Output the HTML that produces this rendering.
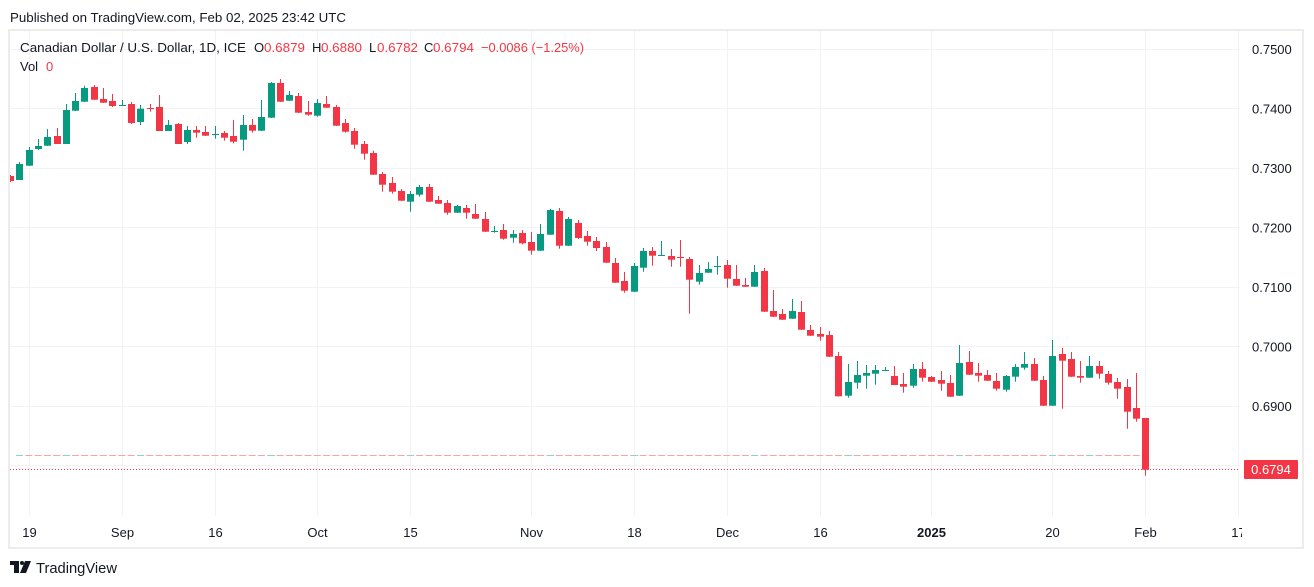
<!DOCTYPE html>
<html><head><meta charset="utf-8"><style>
html,body{margin:0;padding:0;background:#fff;width:1314px;height:587px;overflow:hidden}
svg{display:block}
text{font-family:"Liberation Sans",sans-serif;}
</style></head><body>
<svg width="1314" height="587" viewBox="0 0 1314 587" xmlns="http://www.w3.org/2000/svg">
<defs>
<clipPath id="plot"><rect x="10" y="31" width="1230" height="486"/></clipPath>
<clipPath id="taxis"><rect x="10" y="517" width="1232" height="30"/></clipPath>
</defs>
<rect width="1314" height="587" fill="#fff"/>
<text x="10" y="22" font-size="13" fill="#131722" textLength="336" lengthAdjust="spacingAndGlyphs">Published on TradingView.com, Feb 02, 2025 23:42 UTC</text>
<rect x="9" y="30" width="1294" height="518" fill="#fff" stroke="#ececec" stroke-width="2"/>
<g stroke="#f2f2f2" stroke-width="1">
<line x1="10" y1="49.5" x2="1240" y2="49.5"/>
<line x1="10" y1="108.5" x2="1240" y2="108.5"/>
<line x1="10" y1="168.5" x2="1240" y2="168.5"/>
<line x1="10" y1="227.5" x2="1240" y2="227.5"/>
<line x1="10" y1="287.5" x2="1240" y2="287.5"/>
<line x1="10" y1="346.5" x2="1240" y2="346.5"/>
<line x1="10" y1="406.5" x2="1240" y2="406.5"/>
<line x1="10" y1="465.5" x2="1240" y2="465.5"/>
<line x1="29.5" y1="31" x2="29.5" y2="516"/>
<line x1="122.5" y1="31" x2="122.5" y2="516"/>
<line x1="215.5" y1="31" x2="215.5" y2="516"/>
<line x1="317.5" y1="31" x2="317.5" y2="516"/>
<line x1="410.5" y1="31" x2="410.5" y2="516"/>
<line x1="531.5" y1="31" x2="531.5" y2="516"/>
<line x1="634.5" y1="31" x2="634.5" y2="516"/>
<line x1="727.5" y1="31" x2="727.5" y2="516"/>
<line x1="820.5" y1="31" x2="820.5" y2="516"/>
<line x1="931.5" y1="31" x2="931.5" y2="516"/>
<line x1="1052.5" y1="31" x2="1052.5" y2="516"/>
<line x1="1145.5" y1="31" x2="1145.5" y2="516"/>
<line x1="1238.5" y1="31" x2="1238.5" y2="516"/>
</g>
<g font-size="13">
<text x="20" y="52" fill="#131722" textLength="226" lengthAdjust="spacingAndGlyphs">Canadian Dollar / U.S. Dollar, 1D, ICE</text>
<text x="254" y="52" fill="#131722">O</text><text x="264" y="52" fill="#F23645" textLength="41" lengthAdjust="spacingAndGlyphs">0.6879</text>
<text x="312" y="52" fill="#131722">H</text><text x="321" y="52" fill="#F23645" textLength="41" lengthAdjust="spacingAndGlyphs">0.6880</text>
<text x="369" y="52" fill="#131722">L</text><text x="377" y="52" fill="#F23645" textLength="41" lengthAdjust="spacingAndGlyphs">0.6782</text>
<text x="424" y="52" fill="#131722">C</text><text x="433" y="52" fill="#F23645" textLength="41" lengthAdjust="spacingAndGlyphs">0.6794</text>
<text x="481" y="52" fill="#F23645" textLength="103" lengthAdjust="spacingAndGlyphs">−0.0086 (−1.25%)</text>
<text x="20" y="71" fill="#131722">Vol</text><text x="46" y="71" fill="#F23645">0</text>
</g>
<g clip-path="url(#plot)">
<line x1="16" y1="455.5" x2="1149" y2="455.5" stroke="#f6a4a6" stroke-width="1" stroke-dasharray="7 2.306"/>
<g fill="#8fd3c8">
<rect x="16" y="455" width="7" height="1"/><rect x="63" y="455" width="7" height="1"/><rect x="137" y="455" width="7" height="1"/><rect x="268" y="455" width="7" height="1"/><rect x="407" y="455" width="7" height="1"/><rect x="547" y="455" width="7" height="1"/><rect x="631" y="455" width="7" height="1"/><rect x="751" y="455" width="7" height="1"/><rect x="845" y="455" width="7" height="1"/><rect x="956" y="455" width="7" height="1"/><rect x="1049" y="455" width="7" height="1"/><rect x="1086" y="455" width="7" height="1"/>
</g>
<line x1="10" y1="469.5" x2="1244" y2="469.5" stroke="#F23645" stroke-width="1" stroke-dasharray="1 2"/>
<g fill="#089981">
<rect x="19" y="162" width="1" height="18"/><rect x="16" y="164" width="7" height="16"/>
<rect x="29" y="147" width="1" height="19"/><rect x="26" y="150" width="7" height="15.7"/>
<rect x="38" y="139" width="1" height="11"/><rect x="35" y="146" width="7" height="3"/>
<rect x="47" y="129" width="1" height="17"/><rect x="44" y="137" width="7" height="8.7"/>
<rect x="66" y="104" width="1" height="40"/><rect x="63" y="110" width="7" height="34"/>
<rect x="75" y="93" width="1" height="18"/><rect x="72" y="101" width="7" height="9.7"/>
<rect x="84" y="85.7" width="1" height="16.3"/><rect x="81" y="88" width="7" height="13.7"/>
<rect x="122" y="100" width="1" height="6"/><rect x="119" y="105" width="7" height="1"/>
<rect x="140" y="105" width="1" height="20"/><rect x="137" y="108.7" width="7" height="13.3"/>
<rect x="168" y="120" width="1" height="11"/><rect x="165" y="125" width="7" height="6"/>
<rect x="187" y="126" width="1" height="18"/><rect x="184" y="130" width="7" height="12"/>
<rect x="215" y="126" width="1" height="12.7"/><rect x="212" y="134" width="7" height="1"/>
<rect x="243" y="115" width="1" height="35.7"/><rect x="240" y="125" width="7" height="14.7"/>
<rect x="261" y="100" width="1" height="31"/><rect x="258" y="117" width="7" height="13.7"/>
<rect x="271" y="82" width="1" height="36"/><rect x="268" y="83" width="7" height="34.7"/>
<rect x="289" y="91" width="1" height="10"/><rect x="286" y="95" width="7" height="5.7"/>
<rect x="317" y="99" width="1" height="17.7"/><rect x="314" y="103" width="7" height="12.7"/>
<rect x="410" y="191" width="1" height="20.7"/><rect x="407" y="194" width="7" height="7.7"/>
<rect x="419" y="185" width="1" height="11.7"/><rect x="416" y="187" width="7" height="7.7"/>
<rect x="457" y="205" width="1" height="8"/><rect x="454" y="206" width="7" height="6.7"/>
<rect x="494" y="226" width="1" height="6.7"/><rect x="491" y="231" width="7" height="1"/>
<rect x="513" y="230" width="1" height="12.7"/><rect x="510" y="234" width="7" height="3.7"/>
<rect x="540" y="224" width="1" height="27"/><rect x="537" y="234" width="7" height="16.7"/>
<rect x="550" y="209" width="1" height="26"/><rect x="547" y="210" width="7" height="24.7"/>
<rect x="568" y="217" width="1" height="29"/><rect x="565" y="219" width="7" height="26.7"/>
<rect x="634" y="263" width="1" height="29"/><rect x="631" y="266" width="7" height="25.7"/>
<rect x="643" y="248" width="1" height="23.7"/><rect x="640" y="251" width="7" height="16.7"/>
<rect x="661" y="241" width="1" height="15"/><rect x="658" y="255" width="7" height="1"/>
<rect x="699" y="265" width="1" height="19.7"/><rect x="696" y="273" width="7" height="8.7"/>
<rect x="708" y="262" width="1" height="11"/><rect x="705" y="269" width="7" height="3.7"/>
<rect x="717" y="256" width="1" height="18.7"/><rect x="714" y="266" width="7" height="1"/>
<rect x="754" y="265" width="1" height="22"/><rect x="751" y="272" width="7" height="14.7"/>
<rect x="792" y="299" width="1" height="20"/><rect x="789" y="311" width="7" height="7.7"/>
<rect x="848" y="364" width="1" height="33.7"/><rect x="845" y="382" width="7" height="13.7"/>
<rect x="857" y="361" width="1" height="27.7"/><rect x="854" y="375" width="7" height="7.7"/>
<rect x="866" y="365" width="1" height="23.7"/><rect x="863" y="373" width="7" height="2.7"/>
<rect x="875" y="365" width="1" height="19.7"/><rect x="872" y="370" width="7" height="3.7"/>
<rect x="885" y="367" width="1" height="4"/><rect x="882" y="370" width="7" height="1"/>
<rect x="913" y="364" width="1" height="23.7"/><rect x="910" y="369" width="7" height="16.7"/>
<rect x="959" y="345" width="1" height="51"/><rect x="956" y="363" width="7" height="32.7"/>
<rect x="1006" y="375" width="1" height="16.7"/><rect x="1003" y="376" width="7" height="13.7"/>
<rect x="1015" y="364" width="1" height="17.7"/><rect x="1012" y="367" width="7" height="9.7"/>
<rect x="1024" y="352" width="1" height="17.7"/><rect x="1021" y="364" width="7" height="3.7"/>
<rect x="1052" y="340" width="1" height="66"/><rect x="1049" y="356" width="7" height="49.7"/>
<rect x="1089" y="356" width="1" height="22"/><rect x="1086" y="366" width="7" height="11.7"/>
</g>
<g fill="#F23645">
<rect x="10" y="175" width="1" height="7"/><rect x="7" y="176" width="7" height="5"/>
<rect x="57" y="128" width="1" height="16"/><rect x="54" y="136" width="7" height="8"/>
<rect x="94" y="85" width="1" height="15"/><rect x="91" y="87" width="7" height="12.7"/>
<rect x="103" y="88" width="1" height="15"/><rect x="100" y="99" width="7" height="3.7"/>
<rect x="112" y="94" width="1" height="13"/><rect x="109" y="101" width="7" height="5"/>
<rect x="131" y="102" width="1" height="22"/><rect x="128" y="104" width="7" height="19"/>
<rect x="150" y="104" width="1" height="7.7"/><rect x="147" y="108" width="7" height="1"/>
<rect x="159" y="95" width="1" height="36"/><rect x="156" y="107" width="7" height="24"/>
<rect x="178" y="123" width="1" height="21"/><rect x="175" y="124" width="7" height="20"/>
<rect x="196" y="126" width="1" height="11.7"/><rect x="193" y="130" width="7" height="2.7"/>
<rect x="205" y="126" width="1" height="10"/><rect x="202" y="132" width="7" height="3.7"/>
<rect x="224" y="131" width="1" height="9.7"/><rect x="221" y="133" width="7" height="4.7"/>
<rect x="233" y="120" width="1" height="23.3"/><rect x="230" y="136" width="7" height="5.7"/>
<rect x="252" y="119" width="1" height="13.7"/><rect x="249" y="125" width="7" height="5.7"/>
<rect x="280" y="79" width="1" height="23"/><rect x="277" y="83" width="7" height="18.7"/>
<rect x="298" y="93" width="1" height="20"/><rect x="295" y="96" width="7" height="16.7"/>
<rect x="308" y="101" width="1" height="14.7"/><rect x="305" y="112" width="7" height="2.7"/>
<rect x="326" y="96" width="1" height="12"/><rect x="323" y="104" width="7" height="3.7"/>
<rect x="336" y="105" width="1" height="21"/><rect x="333" y="107" width="7" height="18.7"/>
<rect x="345" y="119" width="1" height="13.7"/><rect x="342" y="123" width="7" height="8.7"/>
<rect x="354" y="128" width="1" height="20.7"/><rect x="351" y="131" width="7" height="13.7"/>
<rect x="364" y="141" width="1" height="18.7"/><rect x="361" y="144" width="7" height="9.7"/>
<rect x="373" y="150.7" width="1" height="24.3"/><rect x="370" y="153" width="7" height="21.7"/>
<rect x="382" y="172" width="1" height="19.7"/><rect x="379" y="174" width="7" height="10.7"/>
<rect x="392" y="177" width="1" height="16.7"/><rect x="389" y="183" width="7" height="8.7"/>
<rect x="401" y="189" width="1" height="12"/><rect x="398" y="191" width="7" height="9.7"/>
<rect x="429" y="184" width="1" height="18"/><rect x="426" y="187" width="7" height="14.7"/>
<rect x="438" y="196" width="1" height="8"/><rect x="435" y="200" width="7" height="3.7"/>
<rect x="447" y="200" width="1" height="14.7"/><rect x="444" y="203" width="7" height="9.7"/>
<rect x="466" y="205" width="1" height="13.7"/><rect x="463" y="208" width="7" height="4.7"/>
<rect x="475" y="204" width="1" height="15"/><rect x="472" y="214" width="7" height="4.7"/>
<rect x="485" y="212" width="1" height="20"/><rect x="482" y="219" width="7" height="12.7"/>
<rect x="503" y="224" width="1" height="15.7"/><rect x="500" y="230" width="7" height="8.7"/>
<rect x="522" y="230" width="1" height="14.3"/><rect x="519" y="233" width="7" height="10.3"/>
<rect x="531" y="232" width="1" height="22.7"/><rect x="528" y="242" width="7" height="8.7"/>
<rect x="559" y="208" width="1" height="40.7"/><rect x="556" y="211" width="7" height="34.7"/>
<rect x="578" y="220" width="1" height="19"/><rect x="575" y="223" width="7" height="15"/>
<rect x="587" y="231" width="1" height="14.7"/><rect x="584" y="236" width="7" height="5.7"/>
<rect x="596" y="237" width="1" height="14"/><rect x="593" y="241" width="7" height="7"/>
<rect x="606" y="242" width="1" height="21"/><rect x="603" y="247" width="7" height="15.7"/>
<rect x="615" y="258" width="1" height="25"/><rect x="612" y="263" width="7" height="19.7"/>
<rect x="624" y="272" width="1" height="20.7"/><rect x="621" y="281" width="7" height="9.7"/>
<rect x="652" y="247" width="1" height="18.7"/><rect x="649" y="251" width="7" height="4.7"/>
<rect x="671" y="249" width="1" height="17.7"/><rect x="668" y="256" width="7" height="3.7"/>
<rect x="680" y="240" width="1" height="26.7"/><rect x="677" y="257" width="7" height="1"/>
<rect x="689" y="257" width="1" height="56.7"/><rect x="686" y="259" width="7" height="20.7"/>
<rect x="727" y="260" width="1" height="27.7"/><rect x="724" y="265" width="7" height="13.7"/>
<rect x="736" y="265" width="1" height="21"/><rect x="733" y="279" width="7" height="6.7"/>
<rect x="745" y="278" width="1" height="9"/><rect x="742" y="285" width="7" height="1.7"/>
<rect x="764" y="268" width="1" height="44"/><rect x="761" y="271" width="7" height="40.7"/>
<rect x="773" y="290" width="1" height="27"/><rect x="770" y="311" width="7" height="5.7"/>
<rect x="782" y="309" width="1" height="11"/><rect x="779" y="314" width="7" height="5.7"/>
<rect x="801" y="301" width="1" height="29"/><rect x="798" y="312" width="7" height="17.7"/>
<rect x="810" y="325" width="1" height="11"/><rect x="807" y="330" width="7" height="5.7"/>
<rect x="820" y="327" width="1" height="13.7"/><rect x="817" y="334" width="7" height="2.7"/>
<rect x="829" y="331" width="1" height="26"/><rect x="826" y="335" width="7" height="21.7"/>
<rect x="838" y="352" width="1" height="44.5"/><rect x="835" y="356" width="7" height="40.3"/>
<rect x="894" y="366" width="1" height="19"/><rect x="891" y="376" width="7" height="9"/>
<rect x="903" y="373" width="1" height="19.7"/><rect x="900" y="384" width="7" height="2.7"/>
<rect x="922" y="362" width="1" height="19.7"/><rect x="919" y="369" width="7" height="8.7"/>
<rect x="931" y="376" width="1" height="6"/><rect x="928" y="377" width="7" height="4.7"/>
<rect x="941" y="371" width="1" height="19.7"/><rect x="938" y="380" width="7" height="3.7"/>
<rect x="950" y="375" width="1" height="22"/><rect x="947" y="383" width="7" height="13.7"/>
<rect x="969" y="351" width="1" height="24"/><rect x="966" y="362" width="7" height="12.7"/>
<rect x="978" y="363" width="1" height="18.7"/><rect x="975" y="373" width="7" height="2.7"/>
<rect x="987" y="370" width="1" height="11"/><rect x="984" y="375" width="7" height="5.7"/>
<rect x="996" y="373" width="1" height="17.7"/><rect x="993" y="381" width="7" height="7.7"/>
<rect x="1034" y="358" width="1" height="23"/><rect x="1031" y="364" width="7" height="16.7"/>
<rect x="1043" y="376" width="1" height="30"/><rect x="1040" y="380" width="7" height="25.7"/>
<rect x="1062" y="348" width="1" height="60.7"/><rect x="1059" y="354" width="7" height="6.7"/>
<rect x="1071" y="352" width="1" height="25"/><rect x="1068" y="359" width="7" height="17.7"/>
<rect x="1080" y="361" width="1" height="21.7"/><rect x="1077" y="376" width="7" height="1.7"/>
<rect x="1099" y="361" width="1" height="17.7"/><rect x="1096" y="366" width="7" height="7.7"/>
<rect x="1108" y="371" width="1" height="13.7"/><rect x="1105" y="374" width="7" height="8.7"/>
<rect x="1117" y="378" width="1" height="20.7"/><rect x="1114" y="382" width="7" height="6.7"/>
<rect x="1127" y="379" width="1" height="49.7"/><rect x="1124" y="387" width="7" height="24.7"/>
<rect x="1136" y="373" width="1" height="48.7"/><rect x="1133" y="408" width="7" height="10.7"/>
<rect x="1145" y="418" width="1" height="57.7"/><rect x="1142" y="418" width="7" height="51.7"/>
</g>
</g>
<g font-size="13" fill="#131722">
<text x="1252" y="54">0.7500</text>
<text x="1252" y="113.5">0.7400</text>
<text x="1252" y="173">0.7300</text>
<text x="1252" y="232.5">0.7200</text>
<text x="1252" y="292">0.7100</text>
<text x="1252" y="351.5">0.7000</text>
<text x="1252" y="411">0.6900</text>
</g>
<rect x="1244" y="460" width="54" height="19" rx="1" fill="#F23645"/>
<text x="1271" y="474" font-size="13" fill="#fff" text-anchor="middle">0.6794</text>
<g font-size="13" fill="#131722" text-anchor="middle" clip-path="url(#taxis)">
<text x="29.5" y="537">19</text>
<text x="122.5" y="537">Sep</text>
<text x="215.5" y="537">16</text>
<text x="317.5" y="537">Oct</text>
<text x="410.5" y="537">15</text>
<text x="531.5" y="537">Nov</text>
<text x="634.5" y="537">18</text>
<text x="727.5" y="537">Dec</text>
<text x="820.5" y="537">16</text>
<text x="931.5" y="537" font-weight="bold">2025</text>
<text x="1052.5" y="537">20</text>
<text x="1145.5" y="537">Feb</text>
<text x="1238.5" y="537">17</text>
</g>
<g fill="#131722">
<rect x="10" y="561" width="9" height="4"/>
<rect x="14" y="561" width="5" height="12"/>
<circle cx="22" cy="563" r="2"/>
<polygon points="25,561 31,561 26,573 20,573"/>
</g>
<text x="36" y="573" font-size="15" fill="#131722" textLength="81" lengthAdjust="spacingAndGlyphs">TradingView</text>
</svg>
</body></html>
